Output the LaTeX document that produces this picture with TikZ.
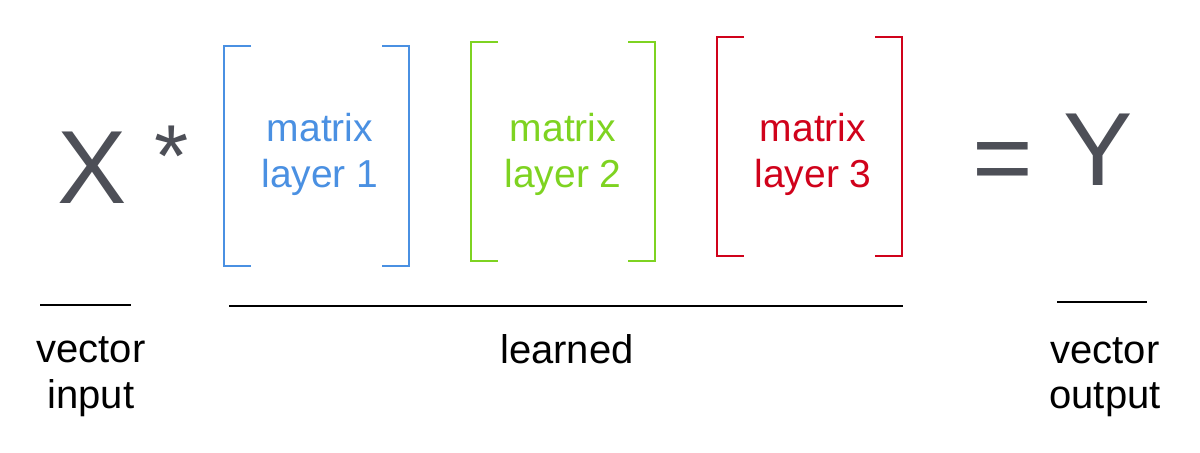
\documentclass[tikz,border=0pt]{standalone}
\usepackage{fontspec}
\setmainfont{Liberation Sans}
\usepackage{tikz}
\usetikzlibrary{positioning}
\definecolor{symgray}{RGB}{77,79,87}
\definecolor{blueL}{RGB}{74,144,226}
\definecolor{greenL}{RGB}{126,211,33}
\definecolor{redL}{RGB}{208,2,27}

\begin{document}
\begin{tikzpicture}[x=0.5pt,y=-0.5pt,
  sym/.style={text=symgray,font=\fontsize{52}{52}\selectfont,inner sep=0,anchor=base},
  mlab/.style={font=\fontsize{19.5}{23}\selectfont,inner sep=0,anchor=base},
  lab/.style={font=\fontsize{20}{23}\selectfont,inner sep=0,anchor=base},
  brk/.style={line width=1pt},
  rule/.style={line width=1pt,black}]
\useasboundingbox (0,0) rectangle (1200,452);
% input and output symbols
\node[sym] (X) at (92,203) {X};
\node[sym,font=\fontsize{44}{44}\selectfont] (times) at (172,186) {*};
\node[sym] (eq) at (1003,193) {=};
\node[sym] (Y) at (1098,185) {Y};
% three weight matrices: left edge / right edge / top / bottom / colour / index / text centre
\foreach \xl/\xr/\yt/\yb/\col/\n/\xc in {224/409/46/266/blueL/1/320, 471/655/42/261/greenL/2/563, 717/902/37/256/redL/3/813}{
  \draw[brk,\col] (\xl+27,\yt) -- (\xl,\yt) -- (\xl,\yb) -- (\xl+27,\yb);
  \draw[brk,\col] (\xr-27,\yt) -- (\xr,\yt) -- (\xr,\yb) -- (\xr-27,\yb);
  \node[mlab,text=\col] (mat\n) at (\xc,141) {matrix};
  \node[mlab,text=\col] (lay\n) at (\xc,187) {layer \n};
}
% underlines and captions
\draw[rule] (40,305) -- (131,305);
\draw[rule] (229,306) -- (903,306);
\draw[rule] (1057,302) -- (1147,302);
\node[lab] (vin1) at (91,362) {vector};
\node[lab] (vin2) at (91,408) {input};
\node[lab] (learned) at (567,363) {learned};
\node[lab] (vout1) at (1105,363) {vector};
\node[lab] (vout2) at (1105,408) {output};
\end{tikzpicture}
\end{document}
